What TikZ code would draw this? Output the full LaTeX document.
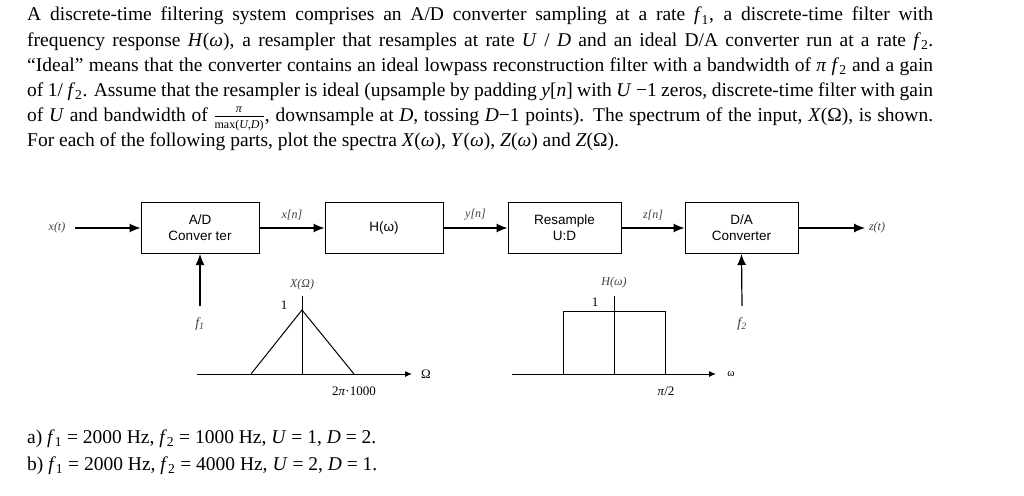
\documentclass[tikz,border=0pt]{standalone}
\usepackage{fontspec}
\setmainfont{Liberation Serif}
\newfontfamily\sansf{Liberation Sans}
\usetikzlibrary{arrows.meta}
\newcommand{\lin}[1]{\makebox[906pt][s]{#1}}
\newcommand{\sm}[1]{\hbox{\fontsize{12}{12}\selectfont #1}}
\begin{document}
\begin{tikzpicture}[x=1pt,y=-1pt,
  blk/.style={draw,line width=1pt,minimum width=118pt,minimum height=51pt,font=\sansf\fontsize{13.5}{16}\selectfont,align=center,inner sep=0pt},
  arr/.style={line width=1.2pt,-{Latex[length=11pt,width=9pt]}},
  ax/.style={line width=1pt},
  lab/.style={font=\itshape\fontsize{12}{13}\selectfont,text=black!75},
  num/.style={font=\fontsize{13}{14}\selectfont},
  txt/.style={anchor=base west,inner sep=0pt,font=\fontsize{19.5}{22}\selectfont}]
\useasboundingbox (0,0) rectangle (1024,495);
\node[txt] (l1) at (27,21) {\lin{A discrete-time filtering system comprises an A/D converter sampling at a rate \textit{f}\textsubscript{1}, a discrete-time filter with}};
\node[txt] (l2) at (27,46) {\lin{frequency response \textit{H}(\textit{ω}), a resampler that resamples at rate \textit{U} / \textit{D} and an ideal D/A converter run at a rate \textit{f}\textsubscript{2}.}};
\node[txt] (l3) at (27,71) {\lin{“Ideal” means that the converter contains an ideal lowpass reconstruction filter with a bandwidth of \textit{π f}\textsubscript{2} and a gain}};
\node[txt] (l4) at (27,96) {\lin{of 1/ \textit{f}\textsubscript{2}. Assume that the resampler is ideal (upsample by padding \textit{y}[\textit{n}] with \textit{U} −1 zeros, discrete-time filter with gain}};
\node[txt] (l5) at (27,121) {\lin{of \textit{U} and bandwidth of $\frac{\sm{\textit{π}}}{\sm{max(\textit{U},\textit{D})}}$, downsample at \textit{D}, tossing \textit{D}−1 points). The spectrum of the input, \textit{X}(Ω), is shown.}};
\node[txt] (l6) at (27,146) {For each of the following parts, plot the spectra \textit{X}(\textit{ω}), \textit{Y}(\textit{ω}), \textit{Z}(\textit{ω}) and \textit{Z}(Ω).};
\node[txt] (pa) at (27,443) {a) \textit{f}\textsubscript{1} = 2000 Hz,  \textit{f}\textsubscript{2} = 1000 Hz, \textit{U} = 1, \textit{D} = 2.};
\node[txt] (pb) at (27,470) {b) \textit{f}\textsubscript{1} = 2000 Hz,  \textit{f}\textsubscript{2} = 4000 Hz, \textit{U} = 2, \textit{D} = 1.};
% blocks
\node[blk] (ad) at (200,228) {A/D\\Conver ter};
\node[blk] (h) at (384,228) {H(ω)};
\node[blk,minimum width=113pt] (rs) at (564.5,228) {Resample\\U:D};
\node[blk,minimum width=113pt] (da) at (741.5,228) {D/A\\Converter};
\node[lab] (xt) at (57,228) {x(t)};
\node[lab] (zt) at (877,228) {z(t)};
\coordinate (xs) at (75,228);
\coordinate (ze) at (865,228);
\draw[arr] (xs) -- (ad);
\draw[arr] (ad) -- node[lab,above=4pt]{x[n]} (h);
\draw[arr] (h) -- node[lab,above=4pt]{y[n]} (rs);
\draw[arr] (rs) -- node[lab,above=4pt]{z[n]} (da);
\draw[arr] (da) -- (ze);
\node[lab,font=\itshape\fontsize{14}{15}\selectfont] (f1) at (200,324) {f\textsubscript{1}};
\node[lab,font=\itshape\fontsize{14}{15}\selectfont] (f2) at (742,324) {f\textsubscript{2}};
\coordinate (f1t) at (200,306);
\coordinate (f2t) at (742,306);
\draw[arr] (f1t) -- (ad.south);
\draw[arr] (f2t) -- (da.south);
% X plot
\coordinate (xa0) at (197,374); \coordinate (xa1) at (412,374);
\draw[ax,-{Latex[length=7pt,width=6pt]}] (xa0) -- (xa1);
\draw[ax] (302,374) -- (302,296);
\draw[ax] (251,374) -- (302,310) -- (354,374);
\node[num] (x1) at (284,305) {1};
\node[lab] (xl) at (302,285) {X(Ω)};
\node[num] (om) at (426,374) {Ω};
\node[num] (x2) at (354,391) {2\textit{π}·1000};
% H plot
\draw[ax,-{Latex[length=7pt,width=6pt]}] (512,374) -- (716,374);
\draw[ax] (614,374) -- (614,296);
\draw[ax] (563,374) -- (563,311) -- (665,311) -- (665,374);
\node[num] (h1) at (595,302) {1};
\node[lab] (hl) at (614,283) {H(ω)};
\node[num,font=\fontsize{11}{12}\selectfont] (w) at (731,374) {ω};
\node[num] (p2) at (666,391) {\textit{π}/2};
\end{tikzpicture}
\end{document}
